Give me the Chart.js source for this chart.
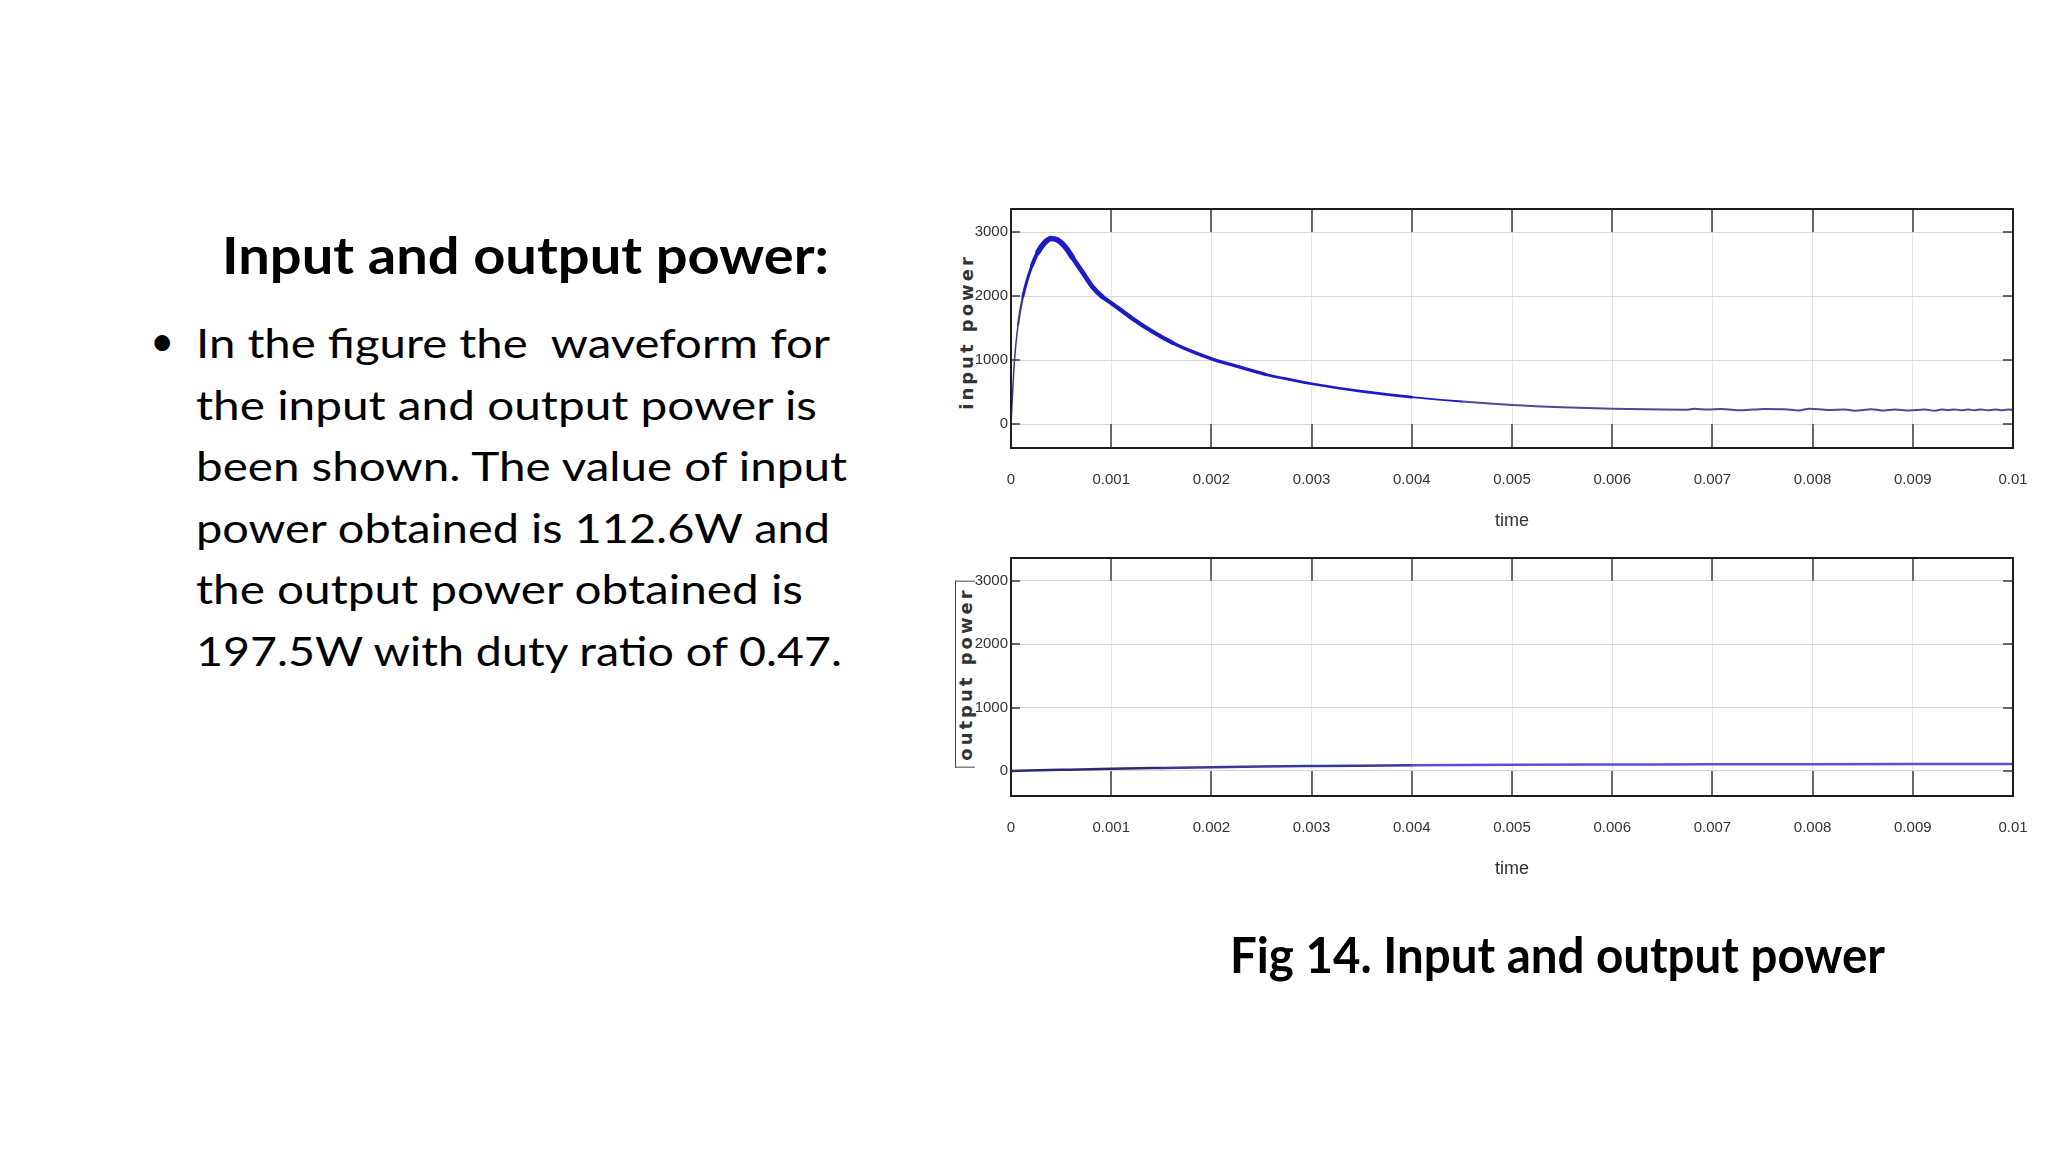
<!DOCTYPE html>
<html>
<head>
<meta charset="utf-8">
<script src="https://cdn.jsdelivr.net/npm/chart.js@4.4.1/dist/chart.umd.min.js"></script>
<style>
html,body{margin:0;padding:0;background:#ffffff;width:2048px;height:1152px;overflow:hidden;}
.t{position:absolute;top:0;white-space:pre;font-family:Lato,'Open Sans',sans-serif;color:#000;transform-origin:0 0;line-height:1;}
.yl{position:absolute;font-family:'DejaVu Sans',sans-serif;font-weight:bold;font-size:18px;letter-spacing:3px;color:#333;white-space:nowrap;line-height:19px;transform:translate(-50%,-50%) rotate(-90deg);}
#yl1{left:966px;top:332px;}
#yl2{left:965px;top:674px;padding:0 6px 0 6px;border:1.5px solid #444;border-bottom:none;}
.cw{position:absolute;left:930px;}
</style>
</head>
<body>
<div class="t" data-x="222" data-b="274" data-w="607" data-s="51" data-wt="700">Input and output power:</div>
<div class="t" data-x="150" data-b="356" data-s="42" data-wt="400">•</div>
<div class="t" data-x="196" data-b="358" data-w="634" data-s="40" data-wt="400">In the figure the  waveform for</div>
<div class="t" data-x="196" data-b="420" data-w="621" data-s="40" data-wt="400">the input and output power is</div>
<div class="t" data-x="196" data-b="481" data-w="651" data-s="40" data-wt="400">been shown. The value of input</div>
<div class="t" data-x="196" data-b="543" data-w="634" data-s="40" data-wt="400">power obtained is 112.6W and</div>
<div class="t" data-x="196" data-b="604" data-w="607" data-s="40" data-wt="400">the output power obtained is</div>
<div class="t" data-x="196" data-b="666" data-w="646" data-s="40" data-wt="400">197.5W with duty ratio of 0.47.</div>
<div class="t" data-x="1230" data-b="973" data-w="655" data-s="49" data-wt="700">Fig 14. Input and output power</div>

<div class="yl" id="yl1">input power</div>
<div class="yl" id="yl2">output power</div>

<div class="cw" style="top:200px;"><canvas id="c1" width="1100" height="340"></canvas></div>
<div class="cw" style="top:548px;"><canvas id="c2" width="1100" height="340"></canvas></div>

<script>
// ---------- data ----------
const xTickValues = [0, 0.001, 0.002, 0.003, 0.004, 0.005, 0.006, 0.007, 0.008, 0.009, 0.01];
const yTickValues = [0, 1000, 2000, 3000];
const xTitle = 'time';

const timeIn = [0, 0.00002, 0.000035, 0.00007, 0.00012, 0.00021, 0.00027, 0.00034, 0.0004, 0.00046,
  0.00051, 0.00056, 0.00061, 0.00071, 0.00081, 0.00091, 0.00101, 0.00121, 0.00141, 0.00161,
  0.00181, 0.00201, 0.00227, 0.00254, 0.0028, 0.003, 0.0035, 0.004, 0.0045, 0.005,
  0.0055, 0.006, 0.0065, 0.00675, 0.00682, 0.00695, 0.00709, 0.00729, 0.00752, 0.00772,
  0.00786, 0.00797, 0.00816, 0.00832, 0.00842, 0.00859, 0.00869, 0.00882, 0.00896, 0.00912,
  0.00922, 0.00929, 0.00935, 0.00942, 0.00948, 0.00955, 0.00962, 0.00968, 0.00975, 0.00982,
  0.00988, 0.00995, 0.01];
const powerIn = [0, 600, 1000, 1550, 2000, 2480, 2690, 2840, 2900, 2880,
  2820, 2730, 2610, 2380, 2150, 1990, 1880, 1650, 1445, 1270,
  1130, 1015, 895, 775, 690, 630, 510, 420, 350, 298,
  262, 238, 226, 224, 238, 226, 234, 214, 236, 232,
  212, 240, 220, 228, 208, 232, 212, 228, 212, 226,
  208, 228, 215, 228, 214, 227, 215, 228, 214, 227,
  216, 225, 220];

const timeOut = [0, 0.0005, 0.001, 0.0015, 0.002, 0.0025, 0.003, 0.0035, 0.004, 0.005, 0.006, 0.007, 0.008, 0.009, 0.01];
const powerOut = [0, 17, 33, 46, 58, 68, 76, 83, 88, 96, 101, 104, 106, 108, 110];

// ---------- text placement ----------
document.querySelectorAll('.t').forEach(d => {
  d.style.left = d.dataset.x + 'px';
  d.style.fontSize = d.dataset.s + 'px';
  d.style.fontWeight = d.dataset.wt;
  const txt = d.textContent;
  d.textContent = '';
  const sp = document.createElement('span'); sp.textContent = txt; d.appendChild(sp);
  const mk = document.createElement('span');
  mk.style.cssText = 'display:inline-block;width:0;height:0;vertical-align:baseline';
  d.appendChild(mk);
  const base = mk.getBoundingClientRect().top - d.getBoundingClientRect().top;
  d.style.top = (parseFloat(d.dataset.b) - base) + 'px';
  if (d.dataset.w) {
    const w = sp.getBoundingClientRect().width;
    d.style.transform = 'scaleX(' + (parseFloat(d.dataset.w) / w) + ')';
  }
});

// ---------- chart helpers ----------
const tickFont = {family: "'Liberation Sans','Arimo',sans-serif", size: 15};
const titleFont = {family: "'Liberation Sans','Arimo',sans-serif", size: 18};

const framePlugin = {
  id: 'frame',
  beforeDatasetsDraw(chart) {
    const {ctx, chartArea: a, scales: {x, y}} = chart;
    const yTop = y.getPixelForValue(yTickValues[yTickValues.length - 1]);
    const yZero = y.getPixelForValue(yTickValues[0]);
    ctx.save();
    ctx.strokeStyle = '#3c3c3c';
    ctx.lineWidth = 1.5;
    ctx.beginPath();
    x.ticks.forEach(t => {
      const px = Math.round(x.getPixelForValue(t.value));
      if (px <= a.left + 2 || px >= a.right - 2) return;
      ctx.moveTo(px, a.top); ctx.lineTo(px, yTop);
      ctx.moveTo(px, yZero); ctx.lineTo(px, a.bottom);
    });
    y.ticks.forEach(t => {
      const py = Math.round(y.getPixelForValue(t.value));
      ctx.moveTo(a.left, py); ctx.lineTo(a.left + 9, py);
      ctx.moveTo(a.right, py); ctx.lineTo(a.right - 10, py);
    });
    ctx.stroke();
    ctx.restore();
  },
  afterDraw(chart) {
    const {ctx, chartArea: a} = chart;
    ctx.save();
    ctx.strokeStyle = '#1e1e1e';
    ctx.lineWidth = 2;
    ctx.strokeRect(a.left, a.top, a.right - a.left, a.bottom - a.top);
    ctx.restore();
  }
};

function makeChart(id, times, values, yMin, yMax, padTop, segment, color, width) {
  const pts = times.map((t, i) => ({x: t, y: values[i]}));
  return new Chart(document.getElementById(id), {
    type: 'line',
    data: {datasets: [{
      data: pts,
      borderColor: color,
      borderWidth: width,
      pointRadius: 0,
      cubicInterpolationMode: 'monotone',
      borderJoinStyle: 'round',
      borderCapStyle: 'round',
      segment: segment
    }]},
    options: {
      responsive: false,
      animation: false,
      devicePixelRatio: 1,
      layout: {padding: {top: padTop, right: 17, bottom: 0, left: 0}},
      plugins: {legend: {display: false}, tooltip: {enabled: false}},
      scales: {
        x: {
          type: 'linear', min: 0, max: 0.01,
          afterBuildTicks: s => { s.ticks = xTickValues.map(v => ({value: v})); },
          afterFit: s => { s.height = 92; s.paddingLeft = 0; s.paddingRight = 0; },
          ticks: {callback: v => String(v), font: tickFont, color: '#333', padding: 23, maxRotation: 0, autoSkip: false},
          grid: {color: '#e6e6e6', lineWidth: 1, drawTicks: false},
          border: {display: false},
          title: {display: true, text: xTitle, font: titleFont, color: '#333', padding: {top: 0, bottom: 8}}
        },
        y: {
          type: 'linear', min: yMin, max: yMax,
          afterBuildTicks: s => { s.ticks = yTickValues.map(v => ({value: v})); },
          afterFit: s => { s.width = 81; s.paddingTop = 0; s.paddingBottom = 0; },
          ticks: {callback: v => String(v), font: tickFont, color: '#333', padding: 3},
          grid: {color: '#d6d6d6', lineWidth: 1, drawTicks: false},
          border: {display: false}
        }
      }
    },
    plugins: [framePlugin]
  });
}

makeChart('c1', timeIn, powerIn, -375, 3360, 9, {
  borderWidth: c => {
    const x = c.p0.parsed.x;
    if (x < 0.00007) return 1.5;
    if (x < 0.00012) return 2.2;
    if (x < 0.00021) return 3;
    if (x < 0.00027) return 4;
    if (x < 0.00061) return 5.5;
    if (x < 0.00091) return 4.8;
    if (x < 0.0015) return 4.2;
    if (x < 0.0025) return 3.4;
    if (x < 0.004) return 2.6;
    return 2;
  },
  borderColor: c => {
    const x = c.p0.parsed.x;
    if (x < 0.00012) return '#3a3a80';
    if (x < 0.0045) return '#1c1cc4';
    return '#4a4a96';
  }
}, '#1c1cc4', 2);

makeChart('c2', timeOut, powerOut, -396, 3359, 10, {
  borderColor: c => {
    const x = c.p0.parsed.x;
    if (x < 0.0015) return '#2c2c6c';
    if (x < 0.004) return '#3a36a0';
    return '#5a50d8';
  }
}, '#5a50d8', 2.5);
</script>
</body>
</html>
